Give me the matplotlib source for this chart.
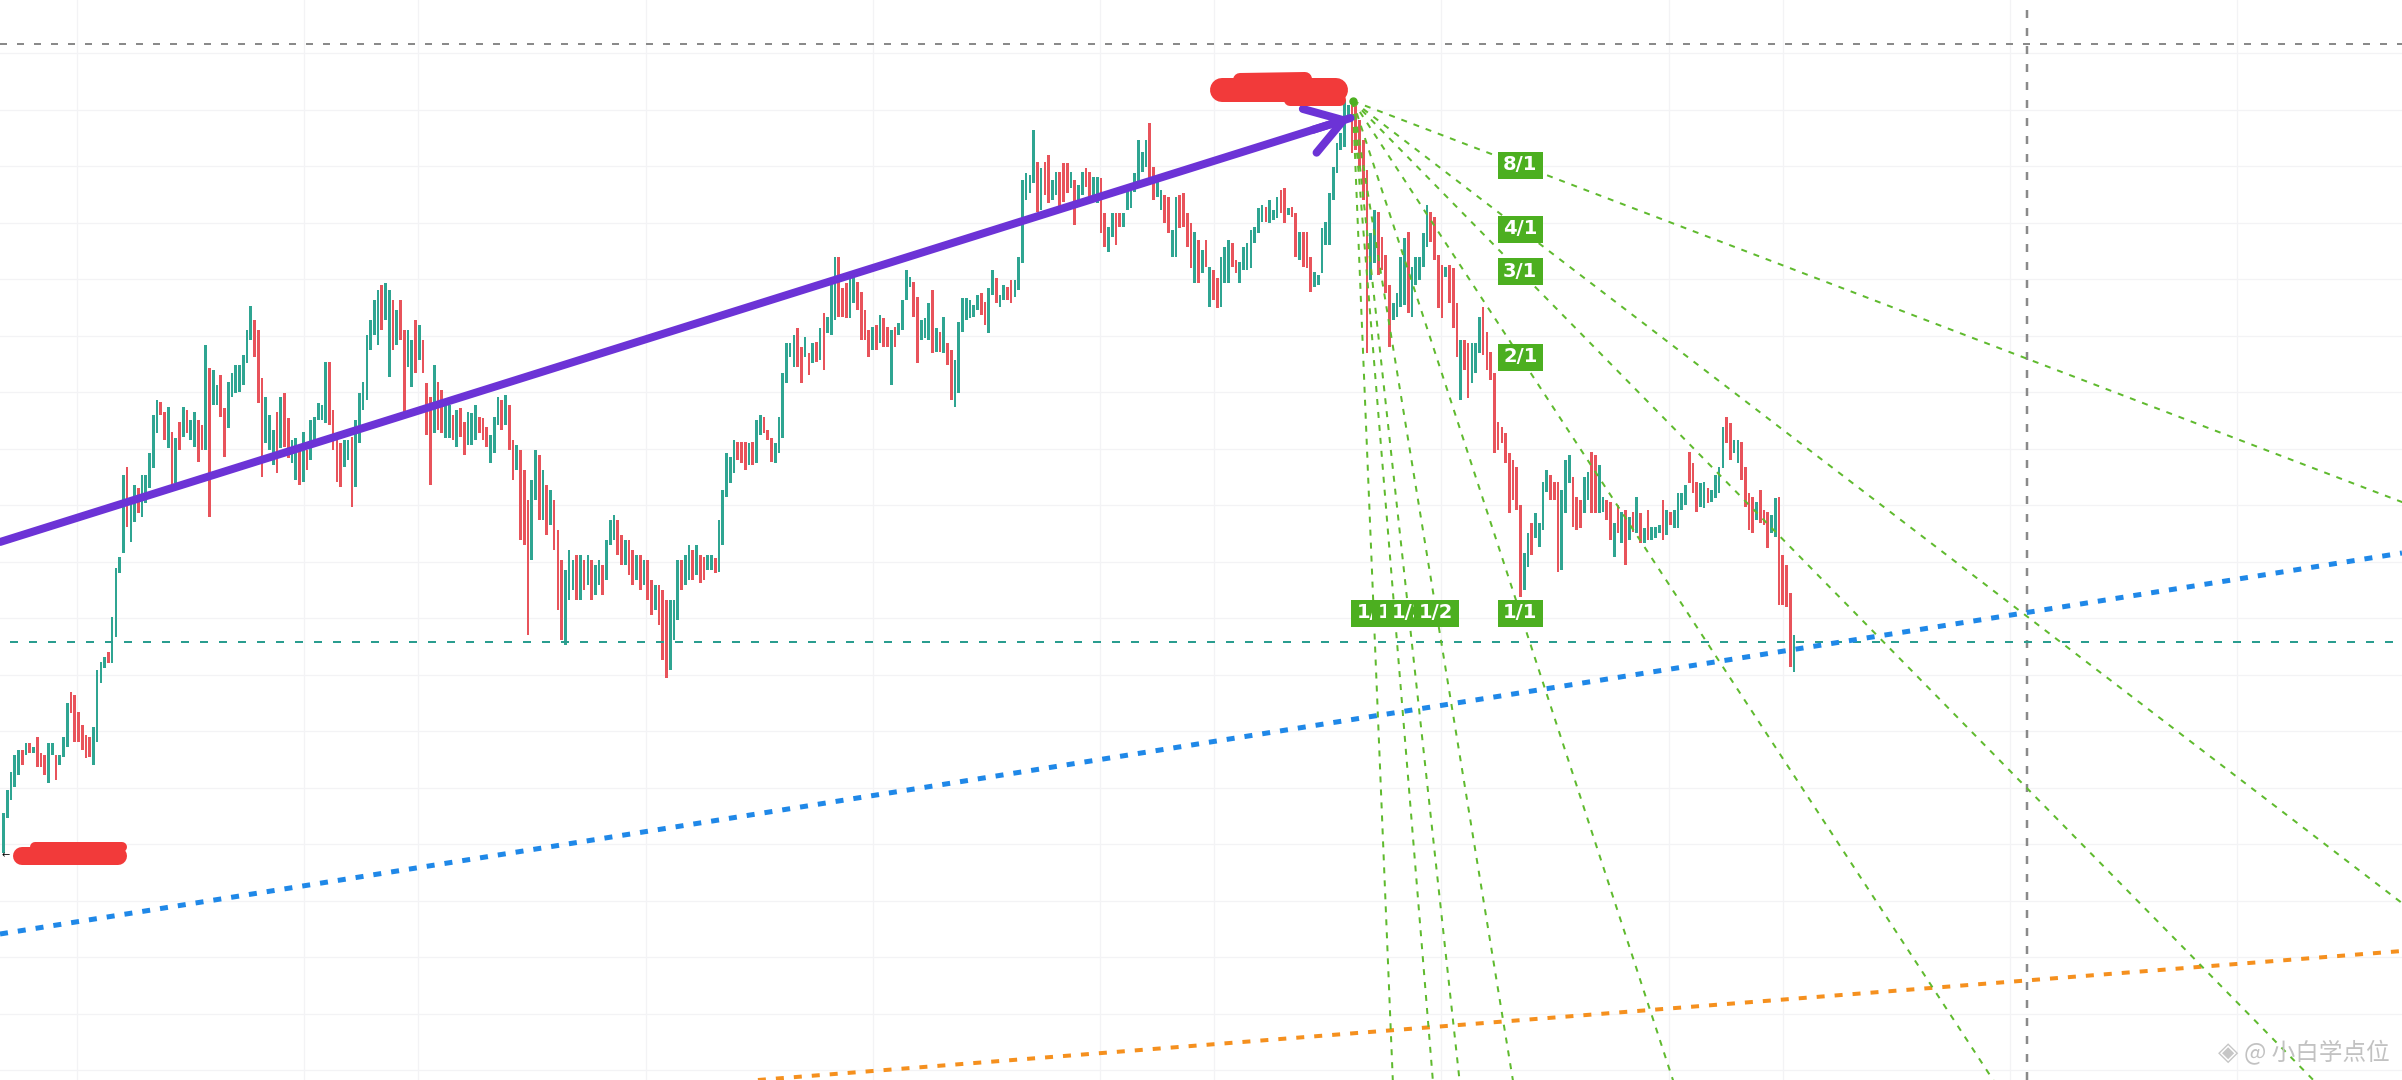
import numpy as np
import matplotlib.pyplot as plt
from matplotlib.patches import Rectangle
from matplotlib.ticker import MultipleLocator, FixedLocator

plt.rcParams['lines.scale_dashes'] = False

# ---- candle data (bar index -> open / close) ----
opens = [
    227, 262, 280, 293, 305, 330, 325, 337, 327, 343,
    327, 325, 297, 325, 325, 315, 323, 333, 388, 385,
    368, 355, 345, 343, 315, 338, 397, 412, 428, 417,
    443, 507, 527, 613, 538, 558, 592, 563, 577, 592,
    612, 647, 678, 668, 632, 648, 597, 658, 643, 670,
    640, 633, 660, 655, 630, 712, 675, 675, 705, 672,
    652, 683, 687, 688, 695, 717, 740, 760, 750, 702,
    637, 630, 615, 668, 632, 687, 662, 617, 600, 630,
    598, 630, 620, 633, 660, 660, 657, 718, 670, 640,
    637, 613, 620, 643, 593, 637, 670, 680, 730, 745,
    735, 795, 760, 703, 780, 735, 780, 750, 713, 693,
    760, 720, 740, 697, 683, 647, 698, 690, 642, 642,
    665, 633, 672, 658, 635, 635, 640, 663, 662, 653,
    617, 627, 655, 680, 655, 675, 640, 610, 630, 610,
    580, 520, 580, 625, 560, 595, 555, 580, 550, 520,
    435, 480, 490, 525, 480, 520, 495, 520, 485, 495,
    515, 500, 535, 540, 560, 545, 515, 540, 530, 500,
    525, 495, 520, 500, 470, 495, 490, 480, 410, 440,
    460, 520, 495, 500, 530, 505, 525, 523, 510, 510,
    522, 508, 535, 583, 597, 607, 638, 638, 638, 615,
    638, 617, 645, 663, 650, 642, 617, 627, 642, 697,
    723, 713, 752, 733, 723, 727, 717, 738, 720, 767,
    747, 745, 760, 823, 792, 797, 762, 777, 798, 788,
    770, 750, 730, 755, 737, 762, 753, 695, 753, 745,
    750, 780, 793, 798, 783, 740, 742, 740, 790, 728,
    748, 727, 737, 730, 673, 687, 748, 760, 762, 763,
    770, 787, 778, 747, 785, 802, 773, 780, 793, 800,
    783, 790, 817, 880, 887, 897, 918, 870, 918, 925,
    880, 885, 908, 917, 917, 892, 900, 880, 885, 912,
    908, 880, 877, 902, 867, 828, 843, 867, 867, 853,
    870, 872, 888, 897, 908, 913, 957, 913, 883, 870,
    885, 883, 823, 823, 885, 887, 867, 857, 797, 840,
    807, 840, 773, 810, 802, 773, 797, 797, 837, 820,
    797, 810, 810, 812, 837, 847, 858, 873, 857, 860,
    862, 890, 892, 865, 873, 867, 820, 848, 848, 823,
    793, 795, 807, 835, 835, 880, 907, 930, 933, 960,
    980, 975, 960, 940, 910, 800, 817, 868, 843, 825,
    795, 760, 763, 773, 775, 848, 763, 795, 800, 813,
    833, 868, 863, 825, 815, 803, 815, 812, 777, 680,
    740, 737, 697, 707, 727, 773, 748, 728, 707, 658,
    653, 647, 627, 620, 613, 575, 490, 513, 557, 542,
    533, 550, 588, 605, 598, 598, 510, 567, 597, 603,
    583, 580, 567, 580, 628, 625, 567, 568, 580, 578,
    523, 575, 537, 570, 540, 568, 547, 567, 537, 570,
    540, 542, 547, 580, 545, 568, 552, 552, 570, 575,
    628, 617, 598, 573, 572, 592, 578, 582, 587, 612,
    663, 657, 627, 617, 638, 613, 587, 583, 560, 590,
    570, 568, 547, 543, 583, 525, 515, 487, 408,
]
closes = [
    267, 290, 308, 325, 330, 315, 337, 327, 333, 313,
    313, 305, 337, 337, 300, 325, 343, 377, 367, 338,
    338, 330, 322, 323, 353, 410, 418, 423, 417, 463,
    512, 523, 605, 553, 583, 595, 567, 605, 605, 627,
    665, 680, 665, 640, 673, 593, 642, 630, 673, 647,
    660, 668, 618, 630, 735, 563, 710, 695, 663, 623,
    698, 707, 715, 715, 725, 750, 774, 723, 677, 603,
    683, 665, 650, 607, 683, 633, 622, 640, 642, 595,
    648, 610, 660, 663, 677, 675, 718, 655, 630, 598,
    593, 640, 640, 573, 660, 687, 698, 745, 760, 780,
    790, 750, 797, 790, 730, 770, 740, 665, 750, 740,
    707, 755, 707, 645, 595, 715, 650, 647, 680, 675,
    640, 670, 643, 625, 668, 667, 675, 647, 640, 633,
    645, 663, 683, 650, 685, 630, 600, 635, 540, 535,
    445, 600, 630, 560, 610, 545, 590, 530, 470, 440,
    510, 530, 520, 480, 525, 490, 525, 480, 515, 520,
    485, 540, 560, 565, 525, 515, 540, 505, 495, 525,
    490, 520, 480, 465, 495, 455, 420, 402, 480, 480,
    520, 490, 525, 535, 500, 535, 497, 500, 525, 525,
    507, 560, 590, 627, 623, 640, 620, 617, 610, 637,
    615, 660, 665, 647, 640, 618, 637, 663, 707, 737,
    737, 745, 713, 697, 743, 705, 737, 718, 752, 710,
    763, 798, 823, 763, 763, 762, 808, 808, 770, 740,
    740, 723, 753, 730, 765, 733, 733, 750, 733, 757,
    780, 810, 803, 763, 717, 760, 762, 777, 727, 752,
    728, 763, 715, 680, 720, 758, 782, 782, 780, 775,
    785, 765, 755, 792, 810, 777, 785, 795, 780, 777,
    800, 823, 900, 907, 905, 950, 868, 912, 885, 877,
    900, 908, 872, 878, 887, 908, 855, 895, 908, 893,
    883, 903, 903, 847, 833, 853, 867, 835, 853, 867,
    890, 893, 907, 940, 928, 940, 898, 880, 902, 890,
    857, 847, 850, 883, 852, 853, 833, 812, 848, 797,
    830, 813, 813, 780, 772, 823, 833, 840, 813, 807,
    818, 833, 837, 850, 853, 872, 875, 858, 880, 870,
    883, 867, 857, 872, 863, 823, 848, 813, 812, 788,
    808, 805, 852, 858, 887, 913, 937, 947, 980, 975,
    927, 930, 913, 880, 727, 847, 870, 805, 810, 787,
    733, 777, 787, 823, 842, 767, 813, 823, 823, 847,
    875, 838, 820, 772, 762, 813, 777, 752, 723, 740,
    710, 682, 737, 737, 763, 725, 710, 700, 627, 630,
    637, 617, 567, 580, 570, 483, 527, 547, 525, 567,
    557, 598, 610, 580, 580, 508, 590, 620, 625, 553,
    550, 552, 603, 608, 567, 567, 615, 583, 560, 540,
    557, 547, 568, 515, 563, 548, 583, 537, 552, 540,
    553, 553, 555, 540, 570, 555, 570, 587, 587, 595,
    597, 587, 568, 597, 598, 577, 590, 605, 613, 653,
    637, 620, 640, 640, 600, 573, 550, 547, 578, 557,
    555, 532, 565, 582, 475, 475, 473, 413, 445,
]

# ---- drawings: (bar index list, price list) ----
trend_purple = ([-0.93, 359.6], [538, 962])
trend_blue = ([-0.93, 640.3], [146, 527])
trend_orange = ([201.4, 640.3], [0, 129])
level_teal = 438
level_teal_start = 1.7
level_gray = 1036
vline_gray = 540.2

fan_origin = (360.2, 979)
fan_box = (44.7, 512)
fan_labels = ['8/1', '4/1', '3/1', '2/1', '1/1', '1/8', '1/4', '1/3', '1/2']
fan_time = [1, 1, 1, 1, 1, 1/8, 1/4, 1/3, 1/2]
fan_price = [1/8, 1/4, 1/3, 1/2, 1, 1, 1, 1, 1]

grid_x = [19.6, 80.2, 110.6, 171.5, 232.1, 292.7, 323.2, 383.7, 444.6, 475.0, 535.6, 596.2]

XMIN, XMAX = -0.934, 640.3
W, H = 2402, 1080
PX = 0.72  # points per pixel at dpi 100

fig = plt.figure(figsize=(W / 100, H / 100), dpi=100)
ax = fig.add_axes([0, 0, 1, 1])
fig.patch.set_facecolor('white')

for s in ax.spines.values():
    s.set_visible(False)
ax.tick_params(length=0, labelbottom=False, labelleft=False)
ax.xaxis.set_major_locator(FixedLocator(grid_x))
ax.yaxis.set_major_locator(MultipleLocator(56.5, offset=10))
ax.grid(True, color='#f3f3f5', lw=1.2 * PX)
ax.set_axisbelow(True)

# candles
o = np.array(opens, dtype=float)
c = np.array(closes, dtype=float)
idx = np.arange(len(o))
up = c >= o
body = c - o
body = np.where(np.abs(body) < 3, np.where(up, 3, -3), body)
cols = np.where(up, '#2fa592', '#e8535b')
ax.bar(idx, body, bottom=o, width=0.72, color=cols, lw=0, zorder=2)

# horizontal / vertical dashed levels
ax.axhline(level_gray, color='#8a8a8a', lw=2 * PX, ls=(0, (7 * PX, 10 * PX)), zorder=3)
ax.axvline(vline_gray, color='#8a8a8a', lw=2.5 * PX, ls=(0, (8 * PX, 10 * PX)), zorder=3)
ax.plot([level_teal_start, XMAX], [level_teal, level_teal], color='#2a9d8f',
        lw=2 * PX, ls=(0, (8 * PX, 11 * PX)), zorder=3)

# trend lines
ax.plot(*trend_blue, color='#1f88e8', lw=5 * PX, ls=(0, (8 * PX, 10 * PX)), zorder=3)
ax.plot(*trend_orange, color='#f5901e', lw=4 * PX, ls=(0, (8 * PX, 10 * PX)), zorder=3)

# gann fan
x0, y0 = fan_origin
bw, bh = fan_box
for k, (lab, ft, fp) in enumerate(zip(fan_labels, fan_time, fan_price)):
    tx, ty = x0 + bw * ft, y0 - bh * fp
    ax.plot([x0, x0 + (tx - x0) * 30], [y0, y0 + (ty - y0) * 30], color='#5fba2e',
            lw=2 * PX, ls=(0, (6 * PX, 7 * PX)), zorder=4)
for k, (lab, ft, fp) in enumerate(zip(fan_labels, fan_time, fan_price)):
    tx, ty = x0 + bw * ft, y0 - bh * fp
    ax.add_patch(Rectangle((tx - 6.0, ty - 13.5), 12.0, 27, fc='#4caf20', ec='none', zorder=10 + 2 * k))
    ax.text(tx, ty, lab, ha='center', va='center', color='white', fontsize=14,
            fontweight='bold', zorder=11 + 2 * k)
ax.plot(x0, y0, marker='o', ms=5, color='#4caf20', zorder=9)

# purple arrow
ax.plot(*trend_purple, color='#6c33d6', lw=8 * PX, solid_capstyle='round', zorder=8)
tip = (trend_purple[0][1], trend_purple[1][1])
back = (trend_purple[0][1] - 10, trend_purple[1][1] - 10 * (962 - 538) / (359.6 + 0.93))
ax.annotate('', xy=tip, xytext=back,
            arrowprops=dict(arrowstyle='->,head_length=0.85,head_width=0.55', mutation_scale=30,
                            color='#6c33d6', lw=8 * PX, shrinkA=0, shrinkB=0,
                            capstyle='round', joinstyle='round'), zorder=8)

# red redaction scribbles (pixel positions of the screenshot)
scribbles = [((1222, 90), (1336, 90), 24), ((1240, 80), (1305, 79), 14), ((1290, 100), (1340, 100), 12),
             ((22, 856), (118, 856), 18), ((35, 847), (122, 847), 10)]
for (xa, ya), (xb, yb), w in scribbles:
    ax.plot([xa / W, xb / W], [1 - ya / H, 1 - yb / H], transform=ax.transAxes, color='#f23a3a',
            lw=w * PX, solid_capstyle='round', zorder=30)
ax.text(2 / W, 1 - 855 / H, '←', transform=ax.transAxes, fontsize=7, color='black',
        va='center', ha='left', zorder=31)

ax.set_xlim(XMIN, XMAX)
ax.set_ylim(0, 1080)

# watermark
fig.text(2228 / W, 1 - 1053 / H, '◈', fontsize=19, color='#c6c6c6', ha='center', va='center',
         family=['DejaVu Sans'])
fig.text(2244 / W, 1 - 1053 / H, '@ 小白学点位', fontsize=17, color='#c2c2c2', ha='left', va='center',
         family=['Noto Sans CJK SC', 'DejaVu Sans'])

fig.savefig('out.png', dpi=100, facecolor='white')
